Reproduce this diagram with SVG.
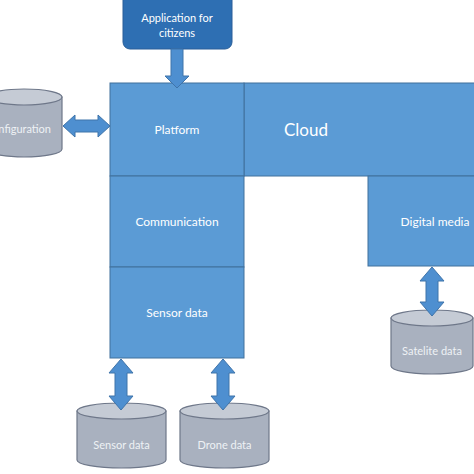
<svg xmlns="http://www.w3.org/2000/svg" width="474" height="474" viewBox="0 0 474 474">
<style>
.blk{fill:#5b9bd5;stroke:#41719c;stroke-width:1}
.app{fill:#2e6fb3;stroke:#2a5f99;stroke-width:1}
.cyl{fill:#a9b1bf;stroke:#6e7789;stroke-width:1.2}
.cyltop{fill:#c5cbd5;stroke:#6e7789;stroke-width:1.2}
.arr{fill:#4e8fd0;stroke:#3f74aa;stroke-width:1}
.t{font-family:Lato,"Open Sans",sans-serif;fill:#ffffff;text-anchor:middle}
.ct{font-family:Lato,"Open Sans",sans-serif;fill:#eef1f5;text-anchor:middle;font-size:11px}
</style>
<rect width="474" height="474" fill="#ffffff"/>
<g id="cloud">
<rect class="blk" x="244" y="83" width="240" height="93"/>
<text class="t" x="306" y="136" font-size="17">Cloud</text>
</g>
<g id="digital-media">
<rect class="blk" x="368" y="176" width="116" height="90"/>
<text class="t" x="435" y="226" font-size="12">Digital media</text>
</g>
<g id="platform">
<rect class="blk" x="110" y="83" width="134" height="93"/>
<text class="t" x="177" y="134" font-size="12">Platform</text>
</g>
<g id="communication">
<rect class="blk" x="110" y="176" width="134" height="91"/>
<text class="t" x="177" y="226" font-size="12">Communication</text>
</g>
<g id="sensor-data-block">
<rect class="blk" x="110" y="267" width="134" height="91"/>
<text class="t" x="177" y="317" font-size="12">Sensor data</text>
</g>
<g id="application">
<rect class="app" x="123" y="-8" width="109" height="57" rx="7"/>
<text class="t" x="177" y="22" font-size="11">Application for</text>
<text class="t" x="177" y="37" font-size="11">citizens</text>
</g>
<g id="configuration">
<path class="cyl" d="M-14,97 L-14,149 A38,8 0 0 0 62,149 L62,97 Z"/>
<ellipse class="cyltop" cx="24" cy="97" rx="38" ry="8"/>
<text class="ct" x="51" y="133" text-anchor="end" style="text-anchor:end">Configuration</text>
</g>
<g id="sensor-data-store">
<path class="cyl" d="M77,411 L77,460 A44.5,8 0 0 0 166,460 L166,411 Z"/>
<ellipse class="cyltop" cx="121.5" cy="411" rx="44.5" ry="8"/>
<text class="ct" x="121.5" y="449">Sensor data</text>
</g>
<g id="drone-data-store">
<path class="cyl" d="M180,411 L180,460 A44.5,8 0 0 0 269,460 L269,411 Z"/>
<ellipse class="cyltop" cx="224.5" cy="411" rx="44.5" ry="8"/>
<text class="ct" x="224.5" y="449">Drone data</text>
</g>
<g id="satellite-data-store">
<path class="cyl" d="M391,318 L391,366 A41,8 0 0 0 473,366 L473,318 Z"/>
<ellipse class="cyltop" cx="432" cy="318" rx="41" ry="8"/>
<text class="ct" x="432" y="355">Satelite data</text>
</g>
<g id="connectors">
<polygon class="arr" points="171,49 183,49 183,76 189,76 177,88 165,76 171,76"/>
<polygon class="arr" points="63,126 75,115 75,120 98,120 98,115 110,126 98,137 98,132 75,132 75,137"/>
<polygon class="arr" points="121,359 133,373 127,373 127,396 133,396 121,410 109,396 115,396 115,373 109,373"/>
<polygon class="arr" points="223,359 235,373 229,373 229,396 235,396 223,410 211,396 217,396 217,373 211,373"/>
<polygon class="arr" points="432,267 444,281 438,281 438,302 444,302 432,316 420,302 426,302 426,281 420,281"/>
</g>
</svg>
